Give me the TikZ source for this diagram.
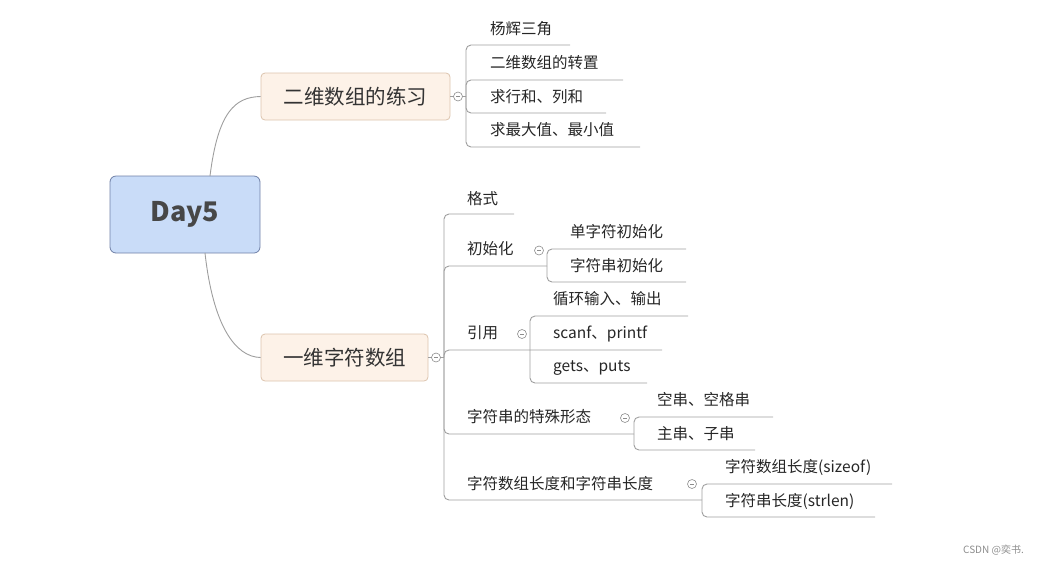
\documentclass[tikz,border=0pt]{standalone}
\usepackage{fontspec}
\setmainfont{Noto Sans CJK SC}
\definecolor{rootfill}{HTML}{C9DCF8}
\definecolor{rootline}{HTML}{6F7FA6}
\definecolor{topfill}{HTML}{FDF2E8}
\definecolor{topline}{HTML}{DCC4AE}
\begin{document}
\begin{tikzpicture}[x=1pt,y=-1pt,
  ln/.style={draw=black!38,line width=0.9pt},
  leaf/.style={anchor=west,inner sep=0pt,font=\fontsize{15.5}{15.5}\selectfont,text=black!85},
  tog/.style={circle,draw=black!45,fill=white,inner sep=0pt,minimum size=9pt,line width=0.6pt,
     path picture={\draw[black!45,line width=0.6pt] ([xshift=-2pt]path picture bounding box.center)--([xshift=2pt]path picture bounding box.center);}},
  topic/.style={draw=topline,fill=topfill,rounded corners=4pt,line width=0.8pt,font=\fontsize{20.5}{20.5}\selectfont,text=black!80}]
\useasboundingbox (0,0) rectangle (1038,566);
\newcommand{\br}[4]{\draw[ln,rounded corners=5pt] (#1,#2) |- (#4,#3);}
% root
\node[draw=rootline,fill=rootfill,rounded corners=6pt,line width=0.8pt,minimum width=150pt,minimum height=77pt,font=\fontsize{27}{27}\selectfont\bfseries,text=black!72] (root) at (185,214.5) {Day5};
\node[topic,minimum width=189pt,minimum height=47pt] (t1) at (355.5,96.5) {二维数组的练习};
\node[topic,minimum width=167pt,minimum height=47pt] (t2) at (344.5,357.5) {一维字符数组};
\draw[ln] (210,176) .. controls (218,112) and (235,97) .. (t1.west);
\draw[ln] (205,253) .. controls (213,325) and (235,357) .. (t2.west);
% top branch
\draw[ln] (t1.east) -- (466,96.5);
\br{466}{96}{45}{570}\br{466}{96}{80}{623}\br{466}{96}{113}{606}\br{466}{96}{147}{640}
\node[tog] (c1) at (458,96.5) {};
\node[leaf] (a1) at (490,29) {杨辉三角};
\node[leaf] (a2) at (490,63) {二维数组的转置};
\node[leaf] (a3) at (490,97) {求行和、列和};
\node[leaf] (a4) at (490,130) {求最大值、最小值};
% bottom branch
\draw[ln] (t2.east) -- (444,357.5);
\br{444}{357}{214}{514}\br{444}{357}{266}{547}\br{444}{357}{350}{662}\br{444}{357}{434}{634}\br{444}{357}{500}{702}
\node[tog] (c2) at (436,357.5) {};
\node[leaf] (b1) at (467,199) {格式};
\node[leaf] (b2) at (467,249) {初始化};
\node[leaf] (b3) at (467,333) {引用};
\node[leaf] (b4) at (467,417) {字符串的特殊形态};
\node[leaf] (b5) at (467,484) {字符数组长度和字符串长度};
% 初始化
\br{547}{265.5}{249}{686}\br{547}{265.5}{282}{686}
\node[tog] at (539,250.5) {};
\node[leaf] (d1) at (570,232) {单字符初始化};
\node[leaf] (d2) at (570,266) {字符串初始化};
% 引用
\br{530}{350}{316}{688}\br{530}{350}{383}{647}
\node[tog] at (522,334) {};
\node[leaf] (e1) at (553,299) {循环输入、输出};
\node[leaf] (e2) at (553,334) {scanf、printf};
\node[leaf] (e3) at (553,368) {gets、puts};
% 特殊形态
\br{634}{433.5}{417}{773}\br{634}{433.5}{450}{755}
\node[tog] at (625,418) {};
\node[leaf] (f1) at (657,400) {空串、空格串};
\node[leaf] (f2) at (657,434) {主串、子串};
% 长度
\br{702}{500.5}{484}{892}\br{702}{500.5}{517}{875}
\node[tog] at (692,484) {};
\node[leaf] (g1) at (725,467) {字符数组长度(sizeof)};
\node[leaf] (g2) at (725,501) {字符串长度(strlen)};
\node[anchor=east,font=\fontsize{10}{10}\selectfont,text=black!45,inner sep=0pt] (wm) at (1024,550) {CSDN @奕书.};
\end{tikzpicture}
\end{document}
